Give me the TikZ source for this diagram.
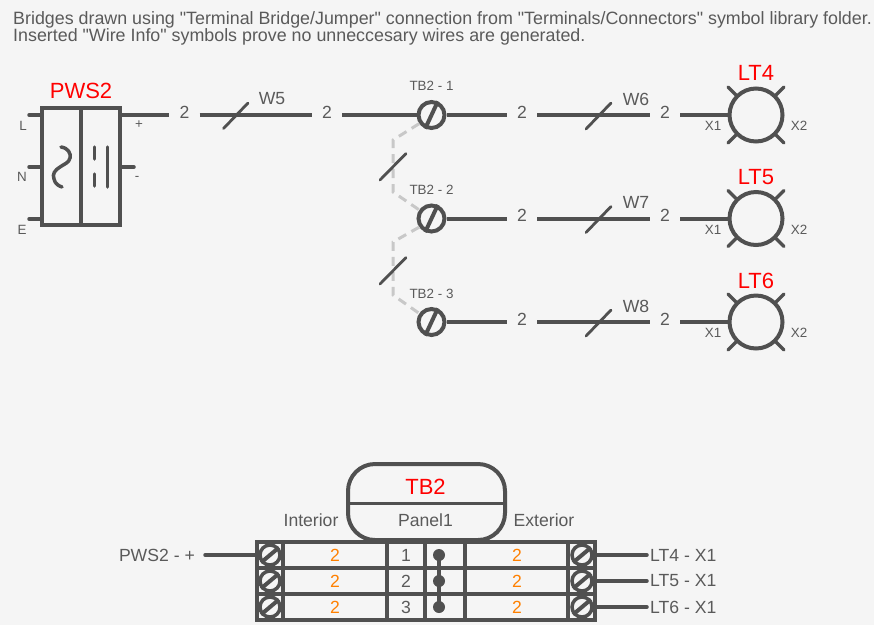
\documentclass[tikz,border=0pt]{standalone}
\usepackage{fontspec}
\setmainfont{Liberation Sans}
\newfontfamily\headfont{Liberation Sans}
\definecolor{bgc}{HTML}{F5F5F5}
\definecolor{ink}{HTML}{505050}
\definecolor{txt}{HTML}{5A5A5A}
\definecolor{org}{HTML}{FF8000}
\definecolor{jump}{HTML}{C8C8C8}
\newcommand{\fs}[1]{\fontsize{#1}{#1}\selectfont}
\tikzset{
  x=1pt,y=-1pt,
  wire/.style={draw=ink,line width=4pt},
  thin wire/.style={draw=ink,line width=3.5pt,line cap=round},
  slash/.style={draw=ink,line width=2.8pt,line cap=round},
  jumper/.style={draw=jump,line width=3pt,dash pattern=on 9pt off 6pt},
  lbl/.style={text=txt,font=\fs{17.6},inner sep=0pt},
  head/.style={text=txt,font=\headfont\fs{17.85},inner sep=0pt,anchor=base west},
  small/.style={text=txt,font=\fs{13.4},inner sep=0pt},
  tag/.style={text=red,font=\fs{22},inner sep=0pt},
  num/.style={text=txt,font=\fs{17.6},inner sep=0pt,minimum width=30pt,minimum height=18pt,text height=8pt,text depth=2pt},
  screw/.style={circle,draw=ink,line width=4pt,minimum size=26pt,inner sep=0pt},
  mini screw/.style={circle,draw=ink,line width=3.5pt,minimum size=20pt,inner sep=0pt},
  lamp/.style={circle,draw=ink,line width=4pt,minimum size=53pt,inner sep=0pt},
  dot/.style={circle,fill=ink,minimum size=12pt,inner sep=0pt},
}
\begin{document}
\begin{tikzpicture}
\fill[bgc,use as bounding box] (0,0) rectangle (874,625);
% heading
\node[head] (h1) at (13,24) {Bridges drawn using "Terminal Bridge/Jumper" connection from "Terminals/Connectors" symbol library folder.};
\node[head] (h2) at (13,41) {Inserted "Wire Info" symbols prove no unneccesary wires are generated.};
% PWS2
\node[tag] (pwstag) at (81,91) {PWS2};
\draw[wire,line width=4pt] (42,108) rectangle (120,225);
\draw[wire,line width=3.5pt] (81,108) -- (81,225);
\coordinate (pL) at (42,115); \coordinate (pLe) at (29,115);
\coordinate (pN) at (42,167); \coordinate (pNe) at (29,167);
\coordinate (pE) at (42,219); \coordinate (pEe) at (29,219);
\coordinate (pP) at (120,115);
\coordinate (pM) at (120,167); \coordinate (pMe) at (134,167);
\draw[thin wire] (pLe) -- (pL);
\draw[thin wire] (pNe) -- (pN);
\draw[thin wire] (pEe) -- (pE);
\draw[thin wire] (pM) -- (pMe);
\node[small] (lL) at (23,126) {L};
\node[small] (lN) at (22,177) {N};
\node[small] (lE) at (22,230) {E};
\node[small] (lP) at (139,125) {+};
\node[small] (lM) at (137,178) {-};
\draw[thin wire] (61,147) .. controls (68,148) and (71,153) .. (70,158) .. controls (69,163) and (64,164) .. (60,167) .. controls (55,170) and (52,174) .. (54,179) .. controls (55,184) and (59,186) .. (62,187);
\draw[thin wire] (94.3,147) -- (94.3,159);
\draw[thin wire] (94.3,174) -- (94.3,186);
\draw[thin wire] (107.3,147) -- (107.3,187);
% first wire
\node[num] (n0) at (184.5,115) {2};
\node[num] (n1) at (327,115) {2};
\node[lbl] (w5) at (272,99) {W5};
\coordinate (s5a) at (223.5,128.5); \coordinate (s5b) at (248,103);
\draw[wire] (pP) -- (n0.west);
\draw[wire] (n0.east) -- (n1.west);
\draw[slash] (s5a) -- (s5b);
% rows
\foreach \i/\y/\tagy/\tby/\w in {1/115/73/86/W6,2/218.5/177/190/W7,3/322/281/294/W8}{
  \node[screw] (t\i) at (431.5,\y) {};
  \draw[draw=ink,line width=4pt] (t\i.245) -- (t\i.65);
  \node[small] (tl\i) at (431.5,\tby) {TB2 - \i};
  \node[num] (na\i) at (522,\y) {2};
  \node[num] (nb\i) at (665,\y) {2};
  \node[lamp] (l\i) at (756,\y) {};
  \node[lbl] (wl\i) at (636,\y-16) {\w};
  \draw[wire] (t\i.east) -- (na\i.west);
  \draw[wire] (na\i.east) -- (nb\i.west);
  \draw[wire] (nb\i.east) -- (l\i.west);
  \draw[slash] (586,\y+14) -- (611,\y-12);
  \node[tag] (lt\i) at (756,\tagy) {LT\the\numexpr\i+3\relax};
  \node[small] (xa\i) at (713,\y+11) {X1};
  \node[small] (xb\i) at (799,\y+11) {X2};
  \foreach \a in {45,135,225,315}{
    \draw[draw=ink,line width=3.5pt,line cap=round] (l\i.\a) -- ++(\a:11pt);
  }
}
\draw[wire] (n1.east) -- (t1.west);
% jumpers
\draw[jumper] (t1.215) -- (393,140) -- (393,192) -- (t2.145);
\draw[jumper] (t2.215) -- (393,242) -- (393,295) -- (t3.145);
\draw[slash] (380,180) -- (406,153.5);
\draw[slash] (380,284) -- (406,257.5);
% TB2 block
\draw[wire,rounded corners=27pt] (348,540) rectangle (505,464);
\draw[draw=ink,line width=3pt] (348,503) -- (505,503);
\node[tag] (tb2) at (425.5,487) {TB2};
\node[lbl] (panel) at (425.5,520) {Panel1};
\node[lbl] (int) at (311,520) {Interior};
\node[lbl] (ext) at (544,520) {Exterior};
\draw[draw=ink,line width=3.5pt] (257,542) rectangle (595,620);
\draw[draw=ink,line width=4pt] (257,568) -- (595,568);
\draw[draw=ink,line width=4pt] (257,594) -- (595,594);
\foreach \x in {283,387,425,465,568}{
  \draw[draw=ink,line width=3.5pt] (\x,542) -- (\x,620);
}
\foreach \i/\y in {1/555,2/581,3/607}{
  \node[mini screw] (sa\i) at (270,\y) {};
  \node[mini screw] (sb\i) at (582,\y) {};
  \draw[draw=ink,line width=4pt] (sa\i.220) -- (sa\i.40);
  \draw[draw=ink,line width=4pt] (sb\i.220) -- (sb\i.40);
  \node[lbl,text=org] (oa\i) at (335,\y) {2};
  \node[lbl,text=org] (ob\i) at (517,\y) {2};
  \node[lbl] (no\i) at (406,\y) {\i};
  \node[dot] (d\i) at (439,\y) {};
}
\draw[draw=ink,line width=4pt] (d1.center) -- (d2.center);
\draw[draw=ink,line width=4pt] (d2.center) -- (d3.center);
\node[lbl,anchor=east] (src) at (195,555) {PWS2 - +};
\draw[thin wire] (src.east) ++(10pt,0pt) coordinate (srce) -- (sa1.west);
\node[lbl,anchor=west] (o1) at (650,555) {LT4 - X1};
\node[lbl,anchor=west] (o2) at (650,581) {LT5 - X1};
\node[lbl,anchor=west] (o3) at (650,607) {LT6 - X1};
\draw[thin wire,shorten >=3pt] (sb1.east) -- (o1.west);
\draw[thin wire,shorten >=3pt] (sb2.east) -- (o2.west);
\draw[thin wire,shorten >=3pt] (sb3.east) -- (o3.west);
\end{tikzpicture}
\end{document}
